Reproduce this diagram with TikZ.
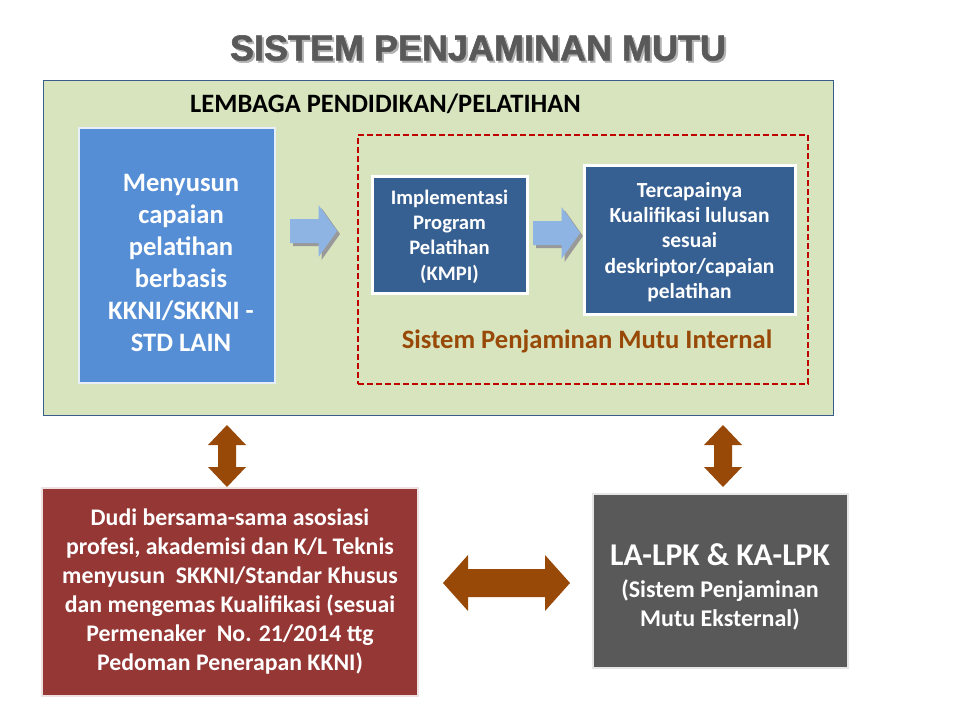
\documentclass[tikz,border=0pt]{standalone}
\usepackage{fontspec}
\setmainfont{Carlito}
\newfontfamily\titlefont{Liberation Sans}[BoldFeatures={FakeBold=1.6}]
\definecolor{greenfill}{HTML}{D7E4BD}
\definecolor{greenline}{HTML}{385D8A}
\definecolor{bluebox}{HTML}{558ED5}
\definecolor{darkblue}{HTML}{376092}
\definecolor{lightarrow}{HTML}{8EB4E3}
\definecolor{dashred}{HTML}{C00000}
\definecolor{brown}{HTML}{984807}
\definecolor{redbox}{HTML}{953735}
\definecolor{graybox}{HTML}{595959}
\definecolor{titlegray}{HTML}{595959}
\tikzset{
  box/.style={rectangle, inner sep=0pt, align=center, text=white},
  whitetxt/.style={align=center, text=white, inner sep=0pt, font=\bfseries},
  rarrow/.pic={
    \fill[black!40] (-20.5,-9) -- (8,-9) -- (8,-23) -- (26.5,3) -- (8,29) -- (8,15) -- (-20.5,15) -- cycle;
    \fill[lightarrow] (-23.5,-12) -- (5,-12) -- (5,-26) -- (23.5,0) -- (5,26) -- (5,12) -- (-23.5,12) -- cycle;
  },
  vdarrow/.pic={
    \fill[brown] (0,-31) -- (19,-11) -- (9,-11) -- (9,11) -- (19,11) -- (0,31) -- (-19,11) -- (-9,11) -- (-9,-11) -- (-19,-11) -- cycle;
  },
  hdarrow/.pic={
    \fill[brown] (-63.5,0) -- (-38.5,-28) -- (-38.5,-14) -- (38.5,-14) -- (38.5,-28) -- (63.5,0) -- (38.5,28) -- (38.5,14) -- (-38.5,14) -- (-38.5,28) -- cycle;
  },
}
\begin{document}
\begin{tikzpicture}[x=1pt,y=-1pt]
\useasboundingbox[fill=white] (0,0) rectangle (960,720);
% title
\node[text=black!30, font=\titlefont\bfseries\fontsize{36}{42}\selectfont] at (480,50) {SISTEM PENJAMINAN MUTU};
\node[text=titlegray, font=\titlefont\bfseries\fontsize{36}{42}\selectfont] (title) at (478,48) {SISTEM PENJAMINAN MUTU};
% green container
\node[box, fill=greenfill, draw=greenline, line width=1pt, minimum width=790pt, minimum height=335pt] (lembaga) at (438,247.5) {};
\node[anchor=west, inner sep=0pt, font=\bfseries\fontsize{26.5}{30}\selectfont] (lembagatxt) at (190,104) {LEMBAGA PENDIDIKAN/PELATIHAN};
% left blue box
\node[box, fill=bluebox, draw=white!85!bluebox, line width=2pt, minimum width=196pt, minimum height=255pt] (menyusun) at (177,255.5) {};
\node[whitetxt, font=\bfseries\fontsize{26.6}{32}\selectfont] (menyusuntxt) at (181,263) {Menyusun\\capaian\\pelatihan\\berbasis\\KKNI/SKKNI -\\STD LAIN};
% internal dashed box
\node[box, draw=dashred, line width=1.8pt, dash pattern=on 6pt off 3pt, minimum width=450pt, minimum height=249pt] (spmi) at (583,259.5) {};
\node[box, fill=darkblue, draw=white, line width=3pt, minimum width=155pt, minimum height=117pt] (impl) at (449.5,234.5) {};
\node[whitetxt, font=\bfseries\fontsize{20.6}{25.3}\selectfont] (impltxt) at (449.5,236.5) {Implementasi\\Program\\Pelatihan\\(KMPI)};
\node[box, fill=darkblue, draw=white, line width=3pt, minimum width=211pt, minimum height=149pt] (terc) at (689.5,240) {};
\node[whitetxt, font=\bfseries\fontsize{21.5}{25.3}\selectfont] (terctxt) at (689.5,242) {Tercapainya\\Kualifikasi lulusan\\sesuai\\deskriptor/capaian\\pelatihan};
\node[text=brown, inner sep=0pt, font=\bfseries\fontsize{26.6}{30}\selectfont] (spmitxt) at (587,341) {Sistem Penjaminan Mutu Internal};
% light arrows
\pic at (313.5,231) {rarrow};
\pic at (556.5,233) {rarrow};
% bottom boxes
\node[box, fill=redbox, draw=white!85!redbox, line width=2pt, minimum width=376pt, minimum height=208pt, font=\bfseries\fontsize{23.8}{29}\selectfont] (dudi) at (230,592) {Dudi bersama-sama asosiasi\\profesi, akademisi dan K/L Teknis\\menyusun~ SKKNI/Standar Khusus\\dan mengemas Kualifikasi (sesuai\\Permenaker~ No. 21/2014 ttg\\Pedoman Penerapan KKNI)};
\node[box, fill=graybox, draw=white!85!graybox, line width=2pt, minimum width=255pt, minimum height=174pt] (lalpk) at (720.5,581) {};
\node[whitetxt, font=\bfseries\fontsize{24}{29}\selectfont] (lalpktxt) at (720,587) {{\fontsize{31.7}{33}\selectfont LA-LPK \& KA-LPK}\\[3pt](Sistem Penjaminan\\Mutu Eksternal)};
% brown double arrows
\pic at (227,456) {vdarrow};
\pic at (723,456) {vdarrow};
\pic at (506.5,583) {hdarrow};
\end{tikzpicture}
\end{document}
